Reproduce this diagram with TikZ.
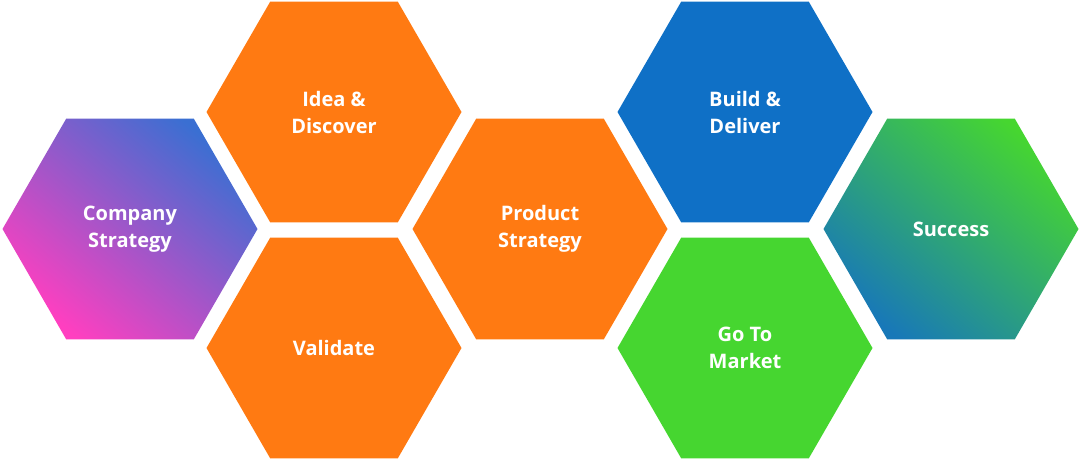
\documentclass[tikz,border=0pt]{standalone}
\usepackage{fontspec}
\setmainfont{Open Sans}
\usetikzlibrary{shapes.geometric}
\definecolor{orng}{HTML}{FF7A12}
\definecolor{blu}{HTML}{0F70C6}
\definecolor{grn}{HTML}{46D630}
\definecolor{gblue}{HTML}{3A6FD2}
\definecolor{gpink}{HTML}{FF3FC0}
\definecolor{gteal}{HTML}{1878B8}
\tikzset{hexa/.style={regular polygon, regular polygon sides=6, minimum size=255pt, inner sep=0pt, outer sep=0pt, text=white, font=\bfseries\fontsize{20}{27}\selectfont, align=center}}
\begin{document}
\begin{tikzpicture}[x=1pt,y=-1pt]
\useasboundingbox (0,0) rectangle (1080,459);
\node[hexa, left color=gblue, right color=gpink, shading angle=-40] (cs) at (130,229) {Company\\Strategy};
\node[hexa, fill=orng] (id) at (334,112) {Idea \&\\Discover};
\node[hexa, fill=orng] (va) at (334,348) {Validate};
\node[hexa, fill=orng] (ps) at (540,229) {Product\\Strategy};
\node[hexa, fill=blu] (bd) at (745,112) {Build \&\\Deliver};
\node[hexa, fill=grn] (gm) at (745,348) {Go To\\Market};
\node[hexa, left color=grn, right color=gteal, shading angle=-40] (su) at (951,229) {Success};
\end{tikzpicture}
\end{document}
